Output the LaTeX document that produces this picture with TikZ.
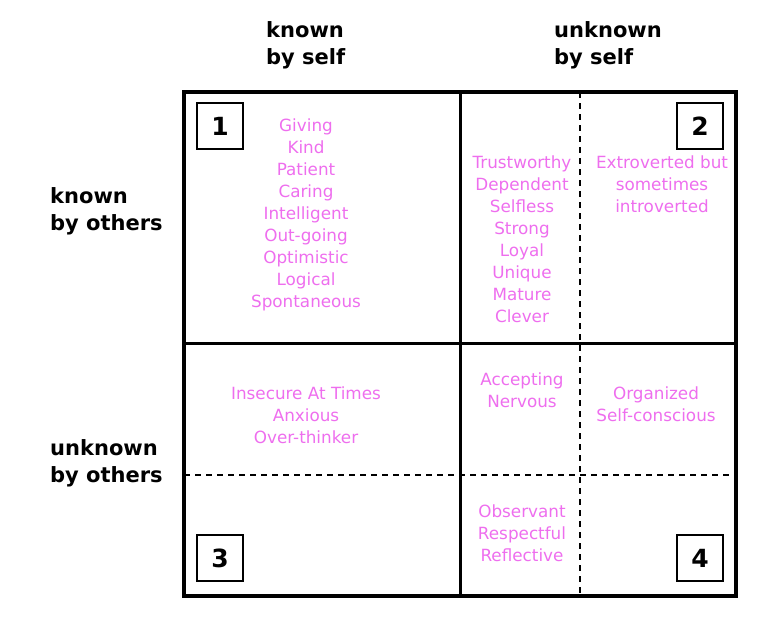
\documentclass[tikz,border=0pt]{standalone}
\usepackage{fontspec}
\setmainfont{DejaVu Sans}
\usepackage{xcolor}
\usetikzlibrary{positioning}
\definecolor{pinkx}{HTML}{EE6EEE}
\definecolor{gridx}{HTML}{000000}
\tikzset{
  head/.style={font=\bfseries\fontsize{21}{27}\selectfont,align=left,inner sep=0pt,anchor=base west},
  trait/.style={text=pinkx,font=\fontsize{16.8}{22}\selectfont,align=center,inner sep=0pt,anchor=base},
  numbox/.style={draw=gridx,line width=2pt,minimum size=46pt,inner sep=0pt,font=\bfseries\fontsize{25}{25}\selectfont}
}

\begin{document}
\begin{tikzpicture}[x=1pt,y=-1pt]
\useasboundingbox (0,0) rectangle (759,618);
% grid
\draw[line width=1.3pt,dash pattern=on 6pt off 5pt] (580,92)--(580,596) (184,475)--(736,475);
\draw[line width=3pt] (460,92)--(460,596) (184,343)--(736,343);
\draw[line width=3.5pt] (184,92) rectangle (736,596);
% headers (placed at the baseline of their last line)
\node[head] (ks) at (266,64) {known\\by self};
\node[head] (us) at (554,64) {unknown\\by self};
\node[head] (ko) at (50,230) {known\\by others};
\node[head] (uo) at (50,482) {unknown\\by others};
% quadrant numbers
\node[numbox] (n1) at (220,126) {1};
\node[numbox] (n2) at (700,126) {2};
\node[numbox] (n3) at (220,558) {3};
\node[numbox] (n4) at (700,558) {4};
% traits
\node[trait] (t1) at (306,307) {Giving\\Kind\\Patient\\Caring\\Intelligent\\Out-going\\Optimistic\\Logical\\Spontaneous};
\node[trait] (t2) at (522,322) {Trustworthy\\Dependent\\Selfless\\Strong\\Loyal\\Unique\\Mature\\Clever};
\node[trait] (t2b) at (662,212) {Extroverted but\\sometimes\\introverted};
\node[trait] (t3) at (306,443) {Insecure At Times\\Anxious\\Over-thinker};
\node[trait] (t4a) at (522,407) {Accepting\\Nervous};
\node[trait] (t4b) at (656,421) {Organized\\Self-conscious};
\node[trait] (t4c) at (522,561) {Observant\\Respectful\\Reflective};
\end{tikzpicture}
\end{document}
